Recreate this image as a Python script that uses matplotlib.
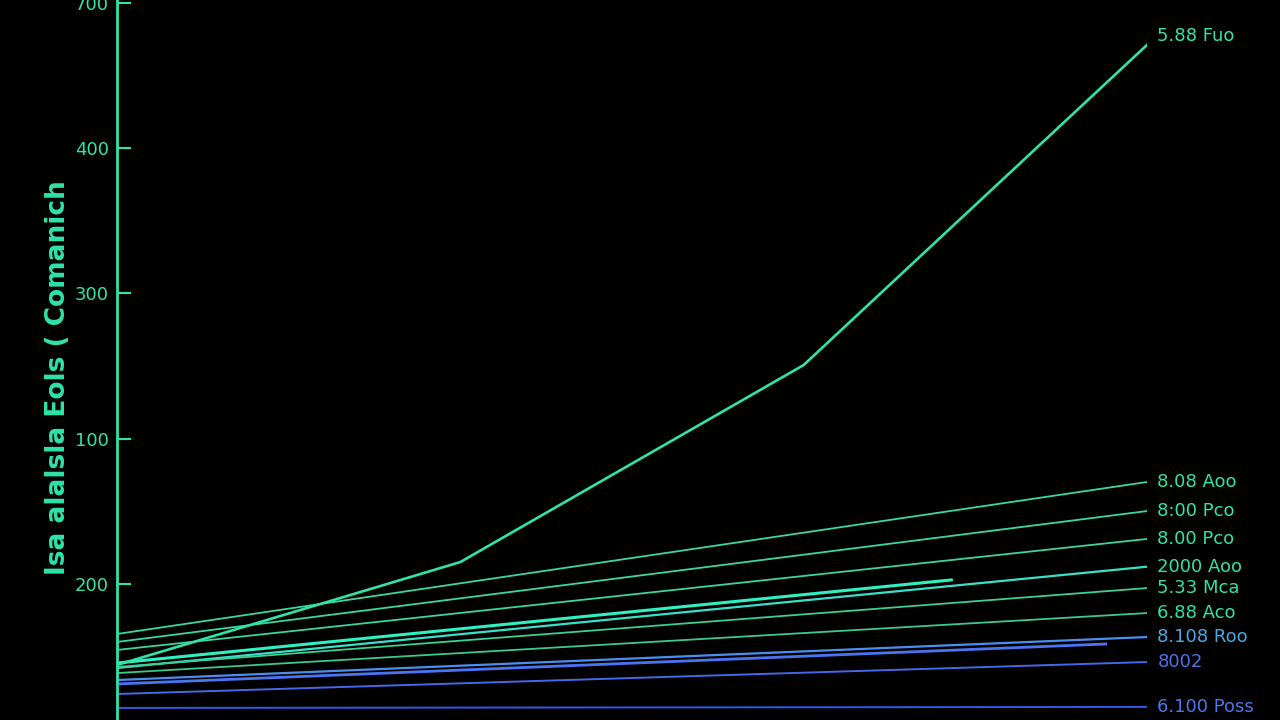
import matplotlib
matplotlib.use("Agg")
import matplotlib.pyplot as plt

# Series values (x in steps 0..3)
main_x = [0, 1, 2, 3]
main_y = [144.3, 215.1, 350.7, 571.0]

line_x = [0, 3]
line_a = [165.6, 270.2]
line_b = [160.1, 250.2]
line_c = [154.6, 231.0]
line_d = [142.2, 211.9]
line_e = [142.9, 197.2]
line_f = [138.7, 180.0]
line_g = [133.9, 163.5]
line_h = [124.3, 146.3]
line_i = [114.7, 115.4]

short_teal_x = [0, 2.43]
short_teal_y = [145.6, 202.8]
short_blue_x = [0, 2.88]
short_blue_y = [131.2, 158.7]

end_labels = ["5.88 Fuo", "8.08 Aoo", "8:00 Pco", "8.00 Pco", "2000 Aoo",
              "5.33 Mca", "6.88 Aco", "8.108 Roo", "8002", "6.100 Poss"]

tick_pos = [200, 300, 400, 500, 600]
tick_text = ["200", "100", "300", "400", "700"]

y_label = "Isa alalsla Eols ( Comanich"

teal = "#2fe3a9"

fig = plt.figure(figsize=(12.8, 7.2), dpi=100, facecolor="black")
ax = fig.add_axes([117 / 1280, 0, (1147 - 117) / 1280, 1])
ax.set_facecolor("black")

# straight lines: (values, line colour, width, end label, label colour)
series = [
    (line_a, "#3ad89c", 1.3, end_labels[1], teal),
    (line_b, "#3ad89c", 1.3, end_labels[2], teal),
    (line_c, "#3ad69a", 1.3, end_labels[3], teal),
    (line_d, "#38e0cc", 1.6, end_labels[4], teal),
    (line_e, "#3ccf92", 1.3, end_labels[5], teal),
    (line_f, "#3cc98c", 1.3, end_labels[6], teal),
    (line_g, "#4a8ef0", 1.6, end_labels[7], "#48a8e0"),
    (line_h, "#4468e8", 1.4, end_labels[8], "#5070e8"),
    (line_i, "#3458e6", 1.4, end_labels[9], "#4a78ec"),
]

ax.plot(short_teal_x, short_teal_y, color="#2ff0c0", lw=2.2)
ax.plot(short_blue_x, short_blue_y, color="#4a74f2", lw=2.0)

for vals, col, lw, lab, lab_col in series:
    ax.plot(line_x, vals, color=col, lw=lw)
    ax.text(3.03, vals[-1], lab, color=lab_col, fontsize=13,
            va="center", ha="left", clip_on=False)

ax.plot(main_x, main_y, color=teal, lw=1.9)
ax.text(3.03, main_y[-1] + 6, end_labels[0], color=teal, fontsize=13,
        va="center", ha="left", clip_on=False)

ax.set_xlim(0, 3)
ax.set_ylim(106.4, 601.9)
ax.set_yticks(tick_pos)
ax.set_yticklabels(tick_text)
ax.set_xticks([])

for side in ["top", "right", "bottom"]:
    ax.spines[side].set_visible(False)
ax.spines["left"].set_color(teal)
ax.spines["left"].set_linewidth(2)

ax.tick_params(axis="y", direction="in", length=10, width=1.5,
               colors=teal, labelsize=13, pad=6)

fig.text(58 / 1280, 1 - 378 / 720, y_label, rotation=90, color=teal,
         fontsize=19, fontweight="bold", ha="center", va="center")

fig.savefig("out.png", dpi=100, facecolor="black")
